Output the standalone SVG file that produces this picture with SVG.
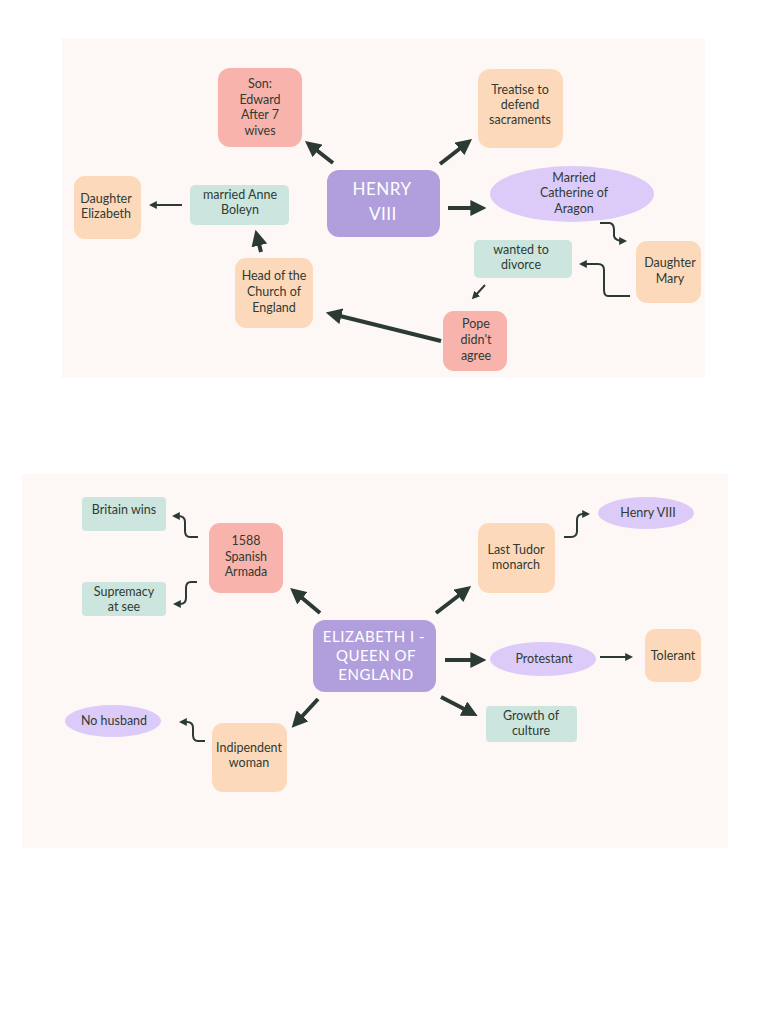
<svg xmlns="http://www.w3.org/2000/svg" width="768" height="1024" viewBox="0 0 768 1024">
<defs>
<style>
.t{font-family:Lato,"Noto Sans",sans-serif;font-size:12.5px;fill:#2f3b33;text-anchor:middle}
.w{font-family:Lato,"Noto Sans",sans-serif;font-size:17px;fill:#ffffff;text-anchor:middle;letter-spacing:0.5px}
.pink{fill:#f9b3ad}.peach{fill:#fdd9bc}.teal{fill:#cce6df}.lav{fill:#dccbf8}.pur{fill:#b09fdc}
.thick{fill:none;stroke:#2b3a33;stroke-width:4;marker-end:url(#ah)}
.thin{fill:none;stroke:#2b3a33;stroke-width:2;marker-end:url(#ah)}
</style>
<marker id="ah" viewBox="0 0 10 10" refX="6" refY="5" markerWidth="4" markerHeight="4" orient="auto" markerUnits="strokeWidth">
<path d="M0,0 L10,5 L0,10 z" fill="#2b3a33"/>
</marker>
</defs>
<rect width="768" height="1024" fill="#ffffff"/>
<rect x="62" y="38" width="643" height="340" fill="#fdf8f5"/>
<rect x="22" y="474" width="706" height="374" fill="#fdf8f5"/>

<g id="connectors">
<path class="thick" d="M333,163 L310,145"/>
<path class="thick" d="M440,164 L467,143"/>
<path class="thick" d="M448,208 L480,208"/>
<path class="thin" d="M600,223 L610,223 Q614,224 614,230 L614,236 Q615,241 624,241"/>
<path class="thin" d="M630,296 L608,296 Q604,296 604,290 L604,270 Q604,264 598,264 L582,264"/>
<path class="thin" d="M485,285 L474,297"/>
<path class="thick" d="M441,341 L332,314"/>
<path class="thick" d="M261,252 L257,236"/>
<path class="thin" d="M182,205 L152,205"/>

<path class="thick" d="M320,613 L295,592"/>
<path class="thin" d="M198,537 L190,537 Q185,537 185,531 L185,522 Q185,516 178,516 L175,516"/>
<path class="thin" d="M197,582 L191,582 Q186,582 186,588 L186,598 Q186,604 180,604 L176,604"/>
<path class="thick" d="M436,613 L466,590"/>
<path class="thin" d="M564,537 L571,537 Q577,537 577,531 L577,520 Q577,514 583,514 L587,514"/>
<path class="thick" d="M445,660 L480,660"/>
<path class="thin" d="M600,657 L630,657"/>
<path class="thick" d="M441,697 L472,713"/>
<path class="thick" d="M318,699 L296,723"/>
<path class="thin" d="M205,741 L198,741 Q193,741 193,735 L193,728 Q193,722 187,722 L182,722"/>
</g>

<g id="son">
<rect class="pink" x="218" y="68" width="84" height="79" rx="12"/>
<text class="t"><tspan x="260" y="88">Son:</tspan><tspan x="260" y="104">Edward</tspan><tspan x="260" y="119">After 7</tspan><tspan x="260" y="135">wives</tspan></text>
</g>
<g id="treatise">
<rect class="peach" x="478" y="69" width="85" height="79" rx="12"/>
<text class="t"><tspan x="520" y="94">Treatise to</tspan><tspan x="520" y="109">defend</tspan><tspan x="520" y="124">sacraments</tspan></text>
</g>
<g id="henry">
<rect class="pur" x="327" y="170" width="113" height="67" rx="12"/>
<text class="w"><tspan x="382" y="195">HENRY</tspan><tspan x="383" y="220">VIII</tspan></text>
</g>
<g id="catherine">
<ellipse class="lav" cx="572" cy="194" rx="82" ry="28"/>
<text class="t"><tspan x="574" y="182">Married</tspan><tspan x="574" y="197">Catherine of</tspan><tspan x="574" y="213">Aragon</tspan></text>
</g>
<g id="mary">
<rect class="peach" x="636" y="241" width="65" height="62" rx="11"/>
<text class="t"><tspan x="670" y="267">Daughter</tspan><tspan x="670" y="283">Mary</tspan></text>
</g>
<g id="divorce">
<rect class="teal" x="474" y="240" width="98" height="38" rx="5"/>
<text class="t"><tspan x="521" y="254">wanted to</tspan><tspan x="521" y="269">divorce</tspan></text>
</g>
<g id="pope">
<rect class="pink" x="443" y="311" width="64" height="60" rx="11"/>
<text class="t"><tspan x="476" y="328">Pope</tspan><tspan x="476" y="344">didn't</tspan><tspan x="476" y="360">agree</tspan></text>
</g>
<g id="head">
<rect class="peach" x="235" y="258" width="78" height="70" rx="11"/>
<text class="t"><tspan x="274" y="280">Head of the</tspan><tspan x="274" y="296">Church of</tspan><tspan x="274" y="312">England</tspan></text>
</g>
<g id="anne">
<rect class="teal" x="190" y="185" width="99" height="40" rx="5"/>
<text class="t"><tspan x="240" y="199">married Anne</tspan><tspan x="240" y="214">Boleyn</tspan></text>
</g>
<g id="elizabethDaughter">
<rect class="peach" x="74" y="176" width="67" height="63" rx="11"/>
<text class="t"><tspan x="106" y="203">Daughter</tspan><tspan x="106" y="218">Elizabeth</tspan></text>
</g>

<g id="britain">
<rect class="teal" x="82" y="497" width="84" height="34" rx="4"/>
<text class="t" x="124" y="514">Britain wins</text>
</g>
<g id="armada">
<rect class="pink" x="209" y="523" width="74" height="70" rx="11"/>
<text class="t"><tspan x="246" y="545">1588</tspan><tspan x="246" y="561">Spanish</tspan><tspan x="246" y="576">Armada</tspan></text>
</g>
<g id="supremacy">
<rect class="teal" x="82" y="582" width="84" height="34" rx="4"/>
<text class="t"><tspan x="124" y="596">Supremacy</tspan><tspan x="124" y="611">at see</tspan></text>
</g>
<g id="lasttudor">
<rect class="peach" x="478" y="523" width="77" height="70" rx="11"/>
<text class="t"><tspan x="516" y="554">Last Tudor</tspan><tspan x="516" y="569">monarch</tspan></text>
</g>
<g id="henry2">
<ellipse class="lav" cx="646" cy="513" rx="48" ry="16"/>
<text class="t" x="648" y="517">Henry VIII</text>
</g>
<g id="elizabeth">
<rect class="pur" x="313" y="620" width="123" height="72" rx="12"/>
<text class="w" style="font-size:15px"><tspan x="374" y="642">ELIZABETH I  -</tspan><tspan x="376" y="661">QUEEN OF</tspan><tspan x="376" y="680">ENGLAND</tspan></text>
</g>
<g id="protestant">
<ellipse class="lav" cx="543" cy="659" rx="53" ry="17"/>
<text class="t" x="544" y="663">Protestant</text>
</g>
<g id="tolerant">
<rect class="peach" x="645" y="629" width="56" height="53" rx="10"/>
<text class="t" x="673" y="660">Tolerant</text>
</g>
<g id="growth">
<rect class="teal" x="486" y="706" width="91" height="36" rx="4"/>
<text class="t"><tspan x="531" y="720">Growth of</tspan><tspan x="531" y="735">culture</tspan></text>
</g>
<g id="indipendent">
<rect class="peach" x="212" y="723" width="75" height="69" rx="11"/>
<text class="t"><tspan x="249" y="752">Indipendent</tspan><tspan x="249" y="767">woman</tspan></text>
</g>
<g id="nohusband">
<ellipse class="lav" cx="113" cy="721" rx="48" ry="16"/>
<text class="t" x="114" y="725">No husband</text>
</g>
</svg>
